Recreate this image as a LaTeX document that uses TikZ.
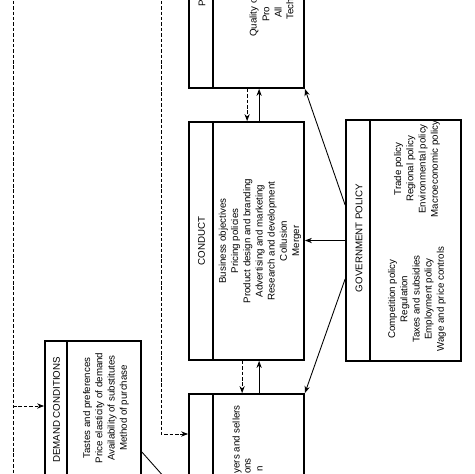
\documentclass[tikz,border=0pt]{standalone}
\usepackage{fontspec}
\setmainfont{Liberation Sans}
\usetikzlibrary{arrows.meta}

\begin{document}
\begin{tikzpicture}[
  x = 0.03cm, y = -0.03cm,
  box/.style = {draw, line width = 1.5pt, inner sep = 0pt},
  txt/.style = {rotate = 90, align = center, inner sep = 0pt,
                font = \fontsize{8.3}{10.4}\selectfont},
  link/.style = {line width = 0.75pt, -{Stealth[length = 6pt, width = 4.5pt]}},
  feed/.style = {link, dash pattern = on 3pt off 1.6pt},
]
\useasboundingbox (0,0) rectangle (474,474);
\clip (0,0) rectangle (474,474);

% boxes: header strip + body
\node[box, minimum width = 3.45cm, minimum height = 4.44cm] (perf)  at (246.5,14)    {};
\node[box, minimum width = 3.45cm, minimum height = 7.14cm] (cond)  at (246.5,241)   {};
\node[box, minimum width = 3.45cm, minimum height = 4.98cm] (struc) at (246.5,477)   {};
\node[box, minimum width = 2.88cm, minimum height = 6.57cm] (dem)   at (93,450.5)    {};
\node[box, minimum width = 3.45cm, minimum height = 7.23cm] (gov)   at (403.5,240.5) {};

\foreach \b/\w in {perf/0.75cm, cond/0.75cm, struc/0.75cm, gov/0.75cm, dem/0.69cm}
  \draw[line width = 1.5pt] ([xshift=\w]\b.north west) -- ([xshift=\w]\b.south west);

% headers
\node[txt] (demH)  at (56.5,410) {DEMAND CONDITIONS};
\node[txt] (condH) at (201.5,241) {CONDUCT};
\node[txt] (govH)  at (359,238) {GOVERNMENT POLICY};
\node[txt, anchor = west] (perfH) at (202,7) {P};

% contents
\node[txt] (demB) at (106,408) {Tastes and preferences\\Price elasticity of demand\\
  Availability of substitutes\\Method of purchase};
\node[txt] (condB) at (260,241) {Business objectives\\Pricing policies\\
  Product design and branding\\Advertising and marketing\\
  Research and development\\Collusion\\Merger};
\node[txt] (govBa) at (417,169) {Trade policy\\Regional policy\\
  Environmental policy\\Macroeconomic policy};
\node[txt] (govBb) at (417,299) {Competition policy\\Regulation\\
  Taxes and subsidies\\Employment policy\\Wage and price controls};

% cut-off lines
\node[txt, anchor = west] (perfBa) at (254,37) {Quality o};
\node[txt, anchor = west] (perfBb) at (266,22) {Pro};
\node[txt, anchor = west] (perfBc) at (278,18) {All};
\node[txt, anchor = west] (perfBd) at (290,20) {Tech};
\node[txt, anchor = east] (strucBa) at (237,405) {yers and sellers};
\node[txt, anchor = east] (strucBb) at (248,458) {ons};
\node[txt, anchor = east] (strucBc) at (260,466) {n};

% links between the stages
\draw[feed] ([xshift=1.77cm]perf.south west) -- ([xshift=1.77cm]cond.north west);
\draw[link] ([xshift=2.13cm]cond.north west) -- ([xshift=2.13cm]perf.south west);
\draw[feed] ([xshift=1.62cm]cond.south west) -- ([xshift=1.62cm]struc.north west);
\draw[link] ([xshift=2.13cm]struc.north west) -- ([xshift=2.13cm]cond.south west);

% government policy
\draw[link] ([yshift=1.065cm]gov.west) -- (perf.south east);
\draw[link] (gov.west) -- (gov.west -| cond.east);
\draw[link] ([yshift=-1.155cm]gov.west) -- (struc.north east);

% feedback
\coordinate (fbL)    at (13,-10);
\coordinate (fbLend) at (13,490);
\coordinate (fbLdem) at (13,406);
\coordinate (fbR)    at (161,-10);
\coordinate (fbRturn) at (161,434);
\draw[feed, -] (fbL) -- (fbLend);
\draw[feed] (fbLdem) -- (fbLdem -| dem.west);
\draw[feed] (fbR) -- (fbRturn) -- (fbRturn -| struc.west);

\draw[link] (dem.east |- 0,452) -- (struc.west |- 0,504);

\end{tikzpicture}
\end{document}
